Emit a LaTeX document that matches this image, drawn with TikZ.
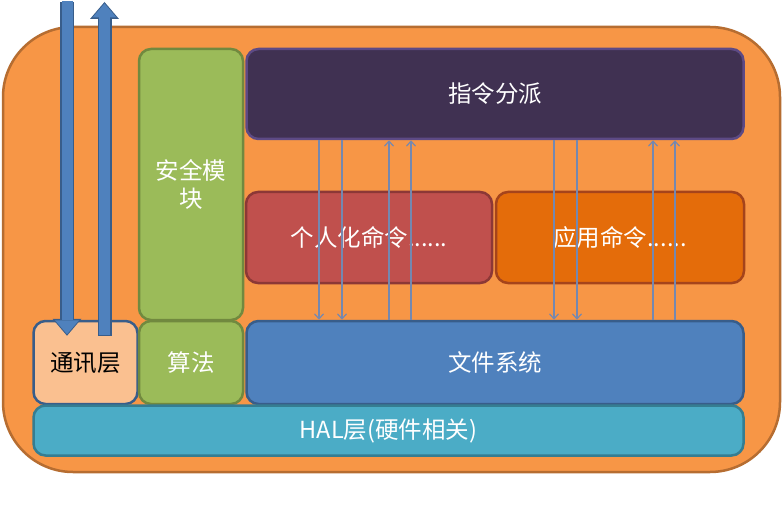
\documentclass[tikz,border=0pt]{standalone}
\usepackage{fontspec}
\setmainfont{Noto Sans CJK SC}
\usepackage{tikz}
\usetikzlibrary{arrows.meta}

\definecolor{outerfill}{HTML}{F79646}
\definecolor{outerline}{HTML}{B66D31}
\definecolor{greenfill}{HTML}{9BBB59}
\definecolor{greenline}{HTML}{71893F}
\definecolor{dispfill}{HTML}{403152}
\definecolor{displine}{HTML}{5D4A85}
\definecolor{persfill}{HTML}{C0504D}
\definecolor{persline}{HTML}{8C3836}
\definecolor{appfill}{HTML}{E46C0A}
\definecolor{appline}{HTML}{A5441B}
\definecolor{commfill}{HTML}{FAC090}
\definecolor{bluefill}{HTML}{4F81BD}
\definecolor{blueline}{HTML}{385D8A}
\definecolor{halfill}{HTML}{4BACC6}
\definecolor{halline}{HTML}{357D91}
\definecolor{cmdgray}{HTML}{7488B0}

\begin{document}
\begin{tikzpicture}[x=1pt,y=-1pt,
    box/.style={draw,line width=2.5pt,rounded corners=12pt,inner sep=0pt,
        text=white,align=center,font=\fontsize{23.5}{28}\selectfont},
    cmdarrow/.style={draw=cmdgray,line width=1.2pt,-{Straight Barb[length=5pt,width=9pt]}},
    bigarrow/.style={draw=blueline,line width=14pt,-{Triangle[width=29pt,length=17pt,line width=0pt]}},
    bigarrowin/.style={draw=bluefill,line width=11pt,shorten >=1.5pt,-{Triangle[width=24pt,length=14pt,line width=0pt]}}]
    \useasboundingbox (0,0) rectangle (784,513);
    % outer frame
    \draw[line width=2.5pt,draw=outerline,fill=outerfill,rounded corners=70pt] (3,27) rectangle (780,472);

    \node[box,fill=greenfill,draw=greenline,minimum width=104pt,minimum height=271pt] (safe) at (191,184.5) {安全模\\块};
    \node[box,fill=dispfill,draw=displine,minimum width=497pt,minimum height=90pt] (dispatch) at (495,94) {指令分派};
    \node[box,fill=persfill,draw=persline,minimum width=246pt,minimum height=91pt] (pers) at (369,237.5) {个人化命令......};
    \node[box,fill=appfill,draw=appline,minimum width=248pt,minimum height=91pt] (app) at (620,237.5) {应用命令......};
    \node[box,fill=commfill,draw=blueline,text=black,minimum width=104pt,minimum height=83pt] (comm) at (85.5,362.5) {通讯层};
    \node[box,fill=greenfill,draw=greenline,minimum width=104pt,minimum height=83pt] (algo) at (191,362.5) {算法};
    \node[box,fill=bluefill,draw=blueline,minimum width=497pt,minimum height=83pt] (fs) at (495,362.5) {文件系统};
    \node[box,fill=halfill,draw=halline,minimum width=710pt,minimum height=50pt] (hal) at (388.5,430.5) {HAL层(硬件相关)};

    % commands between dispatch and file system
    \foreach \x in {319,342,554,577}
        \draw[cmdarrow] (dispatch.south -| \x,0) -- (fs.north -| \x,0);
    \foreach \x in {389,411,653,675}
        \draw[cmdarrow] (fs.north -| \x,0) -- (dispatch.south -| \x,0);

    % in and out of the comm layer
    \coordinate (intop) at (67,2);
    \coordinate (outtop) at (104.5,2);
    \draw[bigarrow] (intop) -- ([yshift=-16pt]comm.north -| intop);
    \draw[bigarrowin] ([yshift=1pt]intop) -- ([yshift=-16pt]comm.north -| intop);
    \draw[bigarrow] ([yshift=-16pt]comm.north -| outtop) -- (outtop);
    \draw[bigarrowin] ([yshift=-15pt]comm.north -| outtop) -- (outtop);
\end{tikzpicture}
\end{document}
